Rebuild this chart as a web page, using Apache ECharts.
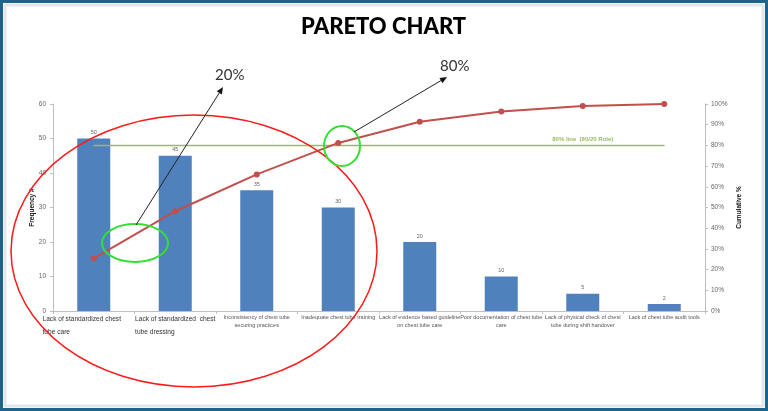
<!DOCTYPE html>
<html>
<head>
<meta charset="utf-8">
<script src="https://cdn.jsdelivr.net/npm/echarts@6/dist/echarts.min.js"></script>
<style>
  html, body { margin: 0; padding: 0; background: #fff; }
  #chart-container { width: 768px; height: 411px; }
</style>
</head>
<body>
<div id="chart-container"></div>
<script>
'use strict';

const causes = [
    'Lack of standardized chest\ntube care',
    'Lack of standardized  chest\ntube dressing',
    'Inconsistency of chest tube\nsecuring practices',
    'Inadequate chest tube training',
    'Lack of evidence based guideline\non chest tube care',
    'Poor documentation of chest tube\ncare',
    'Lack of physical check of chest\ntube during shift handover',
    'Lack of chest tube audit tools'
];
const frequency = [50, 45, 35, 30, 20, 10, 5, 2];
const cumulativePct = [25.4, 48.2, 66.0, 81.2, 91.4, 96.4, 99.0, 100];
const rule80 = [80, 80, 80, 80, 80, 80, 80, 80];
const freqTicks = { min: 0, max: 60, interval: 10 };
const pctTicks = { min: 0, max: 100, interval: 10 };

const myChart = echarts.init(document.getElementById('chart-container'), null, { renderer: 'canvas' });

// first two labels are bigger and left aligned in the original
function causeLabel(value, idx) {
    const tag = idx === 0 ? 'first' : (idx === 1 ? 'big' : 'small');
    return value.split('\n').map(l => `{${tag}|${l}}`).join('\n');
}

// hand drawn arrow: line + small head
function arrow(x1, y1, x2, y2) {
    const a = Math.atan2(y2 - y1, x2 - x1);
    const len = 7, w = 3;
    const bx = x2 - len * Math.cos(a), by = y2 - len * Math.sin(a);
    return [
        {
            type: 'line',
            shape: { x1: x1, y1: y1, x2: bx, y2: by },
            style: { stroke: '#222', lineWidth: 1 },
            z: 100
        },
        {
            type: 'polygon',
            shape: {
                points: [
                    [x2, y2],
                    [bx + w * Math.sin(a), by - w * Math.cos(a)],
                    [bx - w * Math.sin(a), by + w * Math.cos(a)]
                ]
            },
            style: { fill: '#111' },
            z: 100
        }
    ];
}

const bigLabel = { fontSize: 6.6, color: '#333', lineHeight: 13, align: 'left', fontFamily: 'Liberation Sans' };

const option = {
    backgroundColor: '#fff',
    animation: false,
    title: {
        text: 'PARETO CHART',
        left: 296,
        top: 11,
        textStyle: { fontFamily: 'Lato', fontWeight: 900, fontSize: 22, color: '#000' }
    },
    grid: { left: 53, right: 63, top: 104, bottom: 100 },
    xAxis: {
        type: 'category',
        data: causes,
        axisLine: { lineStyle: { color: '#bfbfbf' } },
        axisTick: { show: true, length: 3, lineStyle: { color: '#bfbfbf' } },
        axisLabel: {
            interval: 0,
            margin: 2,
            formatter: causeLabel,
            rich: {
                first: Object.assign({}, bigLabel, { padding: [0, 24, 0, 0] }),
                big: bigLabel,
                small: { fontSize: 5.5, color: '#555', lineHeight: 8, fontFamily: 'Liberation Sans' }
            }
        }
    },
    yAxis: [
        {
            type: 'value',
            min: freqTicks.min,
            max: freqTicks.max,
            interval: freqTicks.interval,
            name: 'Frequency #',
            nameLocation: 'middle',
            nameRotate: 90,
            nameGap: 17,
            nameMoveOverlap: false,
            nameTextStyle: { fontSize: 6.5, fontWeight: 'bold', color: '#111' },
            axisLine: { show: true, lineStyle: { color: '#bfbfbf' } },
            axisTick: { show: true, length: 3, lineStyle: { color: '#bfbfbf' } },
            axisLabel: { fontSize: 6.5, color: '#666', margin: 7 },
            splitLine: { show: false }
        },
        {
            type: 'value',
            min: pctTicks.min,
            max: pctTicks.max,
            interval: pctTicks.interval,
            name: 'Cumulative %',
            nameLocation: 'middle',
            nameRotate: 90,
            nameGap: 31,
            nameMoveOverlap: false,
            nameTextStyle: { fontSize: 6.5, fontWeight: 'bold', color: '#111' },
            axisLine: { show: true, lineStyle: { color: '#bfbfbf' } },
            axisTick: { show: true, length: 3, lineStyle: { color: '#bfbfbf' } },
            axisLabel: { fontSize: 6.5, color: '#666', margin: 6, formatter: '{value}%' },
            splitLine: { show: false }
        }
    ],
    series: [
        {
            name: 'Frequency',
            type: 'bar',
            data: frequency,
            barWidth: 33,
            itemStyle: { color: '#4f81bd' },
            label: { show: true, position: 'top', fontSize: 5.5, color: '#666', distance: 3 }
        },
        {
            name: '80% line',
            type: 'line',
            yAxisIndex: 1,
            data: rule80.map((v, i) => i === 6 ? {
                value: v,
                label: {
                    show: true,
                    position: 'top',
                    distance: 3,
                    formatter: '80% line  (80/20 Rule)',
                    fontSize: 6,
                    fontWeight: 'bold',
                    color: '#9bbb59'
                }
            } : v),
            symbol: 'circle',
            symbolSize: 1,
            itemStyle: { color: '#9bbb59' },
            lineStyle: { color: '#9bbb59', width: 1.5 },
            z: 3
        },
        {
            name: 'Cumulative %',
            type: 'line',
            yAxisIndex: 1,
            data: cumulativePct,
            symbol: 'circle',
            symbolSize: 6,
            itemStyle: { color: '#c0504d' },
            lineStyle: { color: '#c0504d', width: 2 },
            z: 4
        }
    ],
    graphic: [
        // frame
        {
            type: 'rect',
            shape: { x: 1.5, y: 1.5, width: 765, height: 408 },
            style: { fill: 'none', stroke: '#1f6389', lineWidth: 3 },
            z: 100
        },
        {
            type: 'rect',
            shape: { x: 5, y: 5, width: 758, height: 401 },
            style: { fill: 'none', stroke: '#e3e7ec', lineWidth: 3 },
            z: 99
        },
        // annotations
        {
            type: 'ellipse',
            shape: { cx: 194, cy: 251, rx: 183, ry: 136 },
            style: { fill: 'none', stroke: '#ff1a1a', lineWidth: 1.5 },
            z: 100
        },
        {
            type: 'ellipse',
            shape: { cx: 135, cy: 243, rx: 33, ry: 19 },
            style: { fill: 'none', stroke: '#33e033', lineWidth: 2 },
            z: 100
        },
        {
            type: 'ellipse',
            shape: { cx: 342, cy: 146, rx: 18, ry: 20 },
            style: { fill: 'none', stroke: '#33e033', lineWidth: 2 },
            z: 100
        },
        ...arrow(136, 225, 223, 87),
        ...arrow(354, 132, 447, 77),
        {
            type: 'text',
            x: 215, y: 68,
            style: { text: '20%', fontSize: 15, fill: '#333', fontFamily: 'Lato' },
            z: 100
        },
        {
            type: 'text',
            x: 440, y: 59,
            style: { text: '80%', fontSize: 15, fill: '#333', fontFamily: 'Lato' },
            z: 100
        }
    ]
};

myChart.setOption(option);
window.addEventListener('resize', myChart.resize);
</script>
</body>
</html>
